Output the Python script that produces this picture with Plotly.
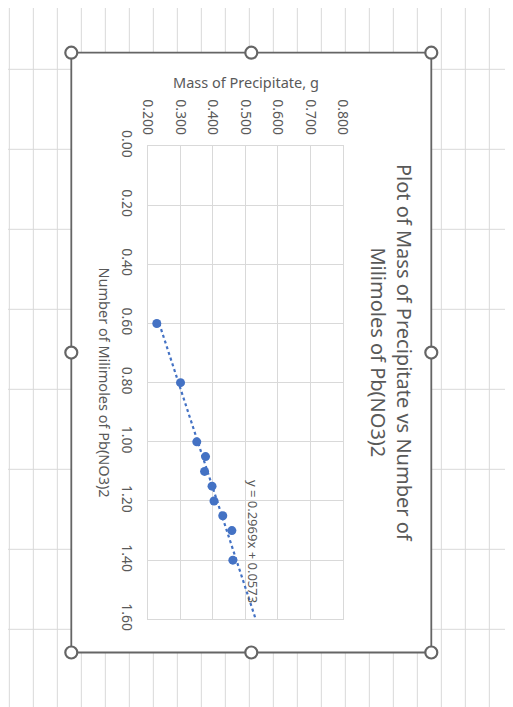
import plotly.graph_objects as go

mmoles = [0.60, 0.80, 1.00, 1.05, 1.10, 1.15, 1.20, 1.25, 1.30, 1.40]
mass = [0.228, 0.301, 0.351, 0.378, 0.375, 0.398, 0.404, 0.431, 0.459, 0.462]
trend_slope = 0.2969
trend_intercept = 0.0573
trend_x = [0.60, 1.60]
mass_ticks = [0.2, 0.3, 0.4, 0.5, 0.6, 0.7, 0.8]
mmol_ticks = [0.0, 0.2, 0.4, 0.6, 0.8, 1.0, 1.2, 1.4, 1.6]

W, H = 513, 707
OFF = 8  # page body margin
FONT = "Noto Sans"
GREY = "#595959"
BLUE = "#4472C4"


def px(x):
    return (x - OFF) / W


def py(y):
    return 1 - (y - OFF) / H


fig = go.Figure()

# the chart is rotated 90 deg clockwise: mmoles run down, mass runs right
fig.add_trace(go.Scatter(
    x=[trend_slope * v + trend_intercept for v in trend_x],
    y=trend_x,
    mode="lines",
    line=dict(color=BLUE, width=2.2, dash="dot"),
    hoverinfo="skip",
    showlegend=False,
))
fig.add_trace(go.Scatter(
    x=mass,
    y=mmoles,
    mode="markers",
    marker=dict(color=BLUE, size=9),
    showlegend=False,
))

shapes = []
# spreadsheet cell grid behind the chart
for k in range(22):
    x = 9.33 + 24 * k
    shapes.append(dict(type="line", xref="paper", yref="paper", layer="below",
                       x0=px(x), x1=px(x), y0=-0.1, y1=1.1,
                       line=dict(color="#d9d9d9", width=1)))
for k in range(8):
    y = 69.3 + 80 * k
    shapes.append(dict(type="line", xref="paper", yref="paper", layer="below",
                       x0=-0.1, x1=1.1, y0=py(y), y1=py(y),
                       line=dict(color="#d9d9d9", width=1)))
# chart area with selection frame
shapes.append(dict(type="rect", xref="paper", yref="paper", layer="below",
                   x0=px(71.3), x1=px(431.3), y0=py(652.5), y1=py(52.7),
                   fillcolor="white", line=dict(color="#656565", width=1.8)))
for hx in [71.3, 251.3, 431.3]:
    for hy in [52.7, 352.6, 652.5]:
        if hx == 251.3 and hy == 352.6:
            continue
        shapes.append(dict(type="circle", xref="paper", yref="paper", layer="above",
                           x0=px(hx - 6), x1=px(hx + 6), y0=py(hy + 6), y1=py(hy - 6),
                           fillcolor="white", line=dict(color="#656565", width=2.2)))

annotations = [
    dict(text="Plot of Mass of Precipitate vs Number of<br>Milimoles of Pb(NO3)2",
         xref="paper", yref="paper", x=px(391.5), y=py(352.5),
         xanchor="center", yanchor="middle", showarrow=False,
         textangle=90, font=dict(family=FONT, size=20, color=GREY)),
    dict(text="Mass of Precipitate, g", xref="paper", yref="paper",
         x=px(245.5), y=py(82), xanchor="center", yanchor="middle", showarrow=False,
         font=dict(family=FONT, size=14.5, color=GREY)),
    dict(text="Number of Milimoles of Pb(NO3)2", xref="paper", yref="paper",
         x=px(105), y=py(382.5), xanchor="center", yanchor="middle",
         showarrow=False, textangle=90,
         font=dict(family=FONT, size=14.5, color=GREY)),
    dict(text="y = 0.2969x + 0.0573", xref="x", yref="y",
         x=0.524, y=1.335, xanchor="center", yanchor="middle",
         showarrow=False, textangle=90,
         font=dict(family=FONT, size=13, color=GREY)),
]

fig.update_layout(
    width=W,
    height=H,
    margin=dict(l=0, r=0, t=0, b=0, autoexpand=False),
    paper_bgcolor="white",
    plot_bgcolor="white",
    shapes=shapes,
    annotations=annotations,
    xaxis=dict(
        domain=[px(147.7), px(342.7)],
        range=[0.2, 0.8],
        side="top",
        tickvals=mass_ticks,
        tickformat=".3f",
        tickangle=90,
        ticklabelstandoff=5,
        tickfont=dict(family=FONT, size=14, color=GREY),
        showgrid=True, gridcolor="#d9d9d9", gridwidth=1,
        showline=True, mirror=True, linecolor="#d9d9d9", linewidth=1,
        zeroline=False, ticks="", automargin=False,
    ),
    yaxis=dict(
        domain=[py(619.3), py(146)],
        range=[1.6, 0.0],
        tickvals=mmol_ticks,
        tickformat=".2f",
        tickangle=90,
        ticklabelstandoff=8,
        tickfont=dict(family=FONT, size=14, color=GREY),
        showgrid=True, gridcolor="#d9d9d9", gridwidth=1,
        showline=True, mirror=True, linecolor="#d9d9d9", linewidth=1,
        zeroline=False, ticks="", automargin=False,
    ),
)

fig.write_html("out.html")
